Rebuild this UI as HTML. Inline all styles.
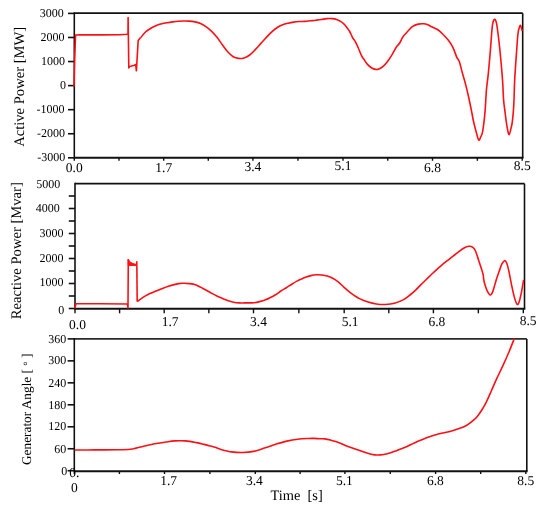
<!DOCTYPE html>
<html><head><meta charset="utf-8"><title>Generator response</title>
<style>
html,body{margin:0;padding:0;background:#fff;width:550px;height:507px;overflow:hidden;}
svg{display:block;}
text{font-family:"Liberation Serif","Times New Roman",serif;fill:#000;text-rendering:geometricPrecision;}
</style></head><body>
<svg width="550" height="507" viewBox="0 0 550 507">
<rect width="550" height="507" fill="#fff"/>
<line x1="74.30" y1="13.20" x2="522.70" y2="13.20" stroke="#111" stroke-width="1.8"/>
<line x1="522.70" y1="13.20" x2="522.70" y2="157.80" stroke="#111" stroke-width="1.6"/>
<line x1="74.30" y1="157.80" x2="523.50" y2="157.80" stroke="#111" stroke-width="1.9"/>
<line x1="74.30" y1="12.30" x2="74.30" y2="158.75" stroke="#111" stroke-width="1.6"/>
<line x1="68.00" y1="13.40" x2="74.30" y2="13.40" stroke="#111" stroke-width="1.6"/>
<text x="63.80" y="16.80" font-size="12.0" text-anchor="end">3000</text>
<line x1="68.00" y1="37.47" x2="74.30" y2="37.47" stroke="#111" stroke-width="1.6"/>
<text x="64.60" y="40.87" font-size="12.0" text-anchor="end">2000</text>
<line x1="68.00" y1="61.54" x2="74.30" y2="61.54" stroke="#111" stroke-width="1.6"/>
<text x="64.90" y="64.94" font-size="12.0" text-anchor="end">1000</text>
<line x1="68.00" y1="85.61" x2="74.30" y2="85.61" stroke="#111" stroke-width="1.6"/>
<text x="66.10" y="89.01" font-size="12.0" text-anchor="end">0</text>
<line x1="68.00" y1="109.68" x2="74.30" y2="109.68" stroke="#111" stroke-width="1.6"/>
<text x="64.60" y="113.08" font-size="12.0" text-anchor="end">-1000</text>
<line x1="68.00" y1="133.75" x2="74.30" y2="133.75" stroke="#111" stroke-width="1.6"/>
<text x="64.90" y="137.15" font-size="12.0" text-anchor="end">-2000</text>
<line x1="68.00" y1="157.82" x2="74.30" y2="157.82" stroke="#111" stroke-width="1.6"/>
<text x="65.30" y="161.22" font-size="12.0" text-anchor="end">-3000</text>
<line x1="74.30" y1="157.80" x2="74.30" y2="160.80" stroke="#111" stroke-width="1.4"/>
<line x1="163.70" y1="157.80" x2="163.70" y2="160.80" stroke="#111" stroke-width="1.4"/>
<line x1="252.90" y1="157.80" x2="252.90" y2="160.80" stroke="#111" stroke-width="1.4"/>
<line x1="343.00" y1="157.80" x2="343.00" y2="160.80" stroke="#111" stroke-width="1.4"/>
<line x1="432.50" y1="157.80" x2="432.50" y2="160.80" stroke="#111" stroke-width="1.4"/>
<line x1="522.20" y1="157.80" x2="522.20" y2="160.80" stroke="#111" stroke-width="1.4"/>
<line x1="119.00" y1="157.80" x2="119.00" y2="160.80" stroke="#111" stroke-width="1.4"/>
<line x1="208.30" y1="157.80" x2="208.30" y2="160.80" stroke="#111" stroke-width="1.4"/>
<line x1="297.95" y1="157.80" x2="297.95" y2="160.80" stroke="#111" stroke-width="1.4"/>
<line x1="387.75" y1="157.80" x2="387.75" y2="160.80" stroke="#111" stroke-width="1.4"/>
<line x1="477.35" y1="157.80" x2="477.35" y2="160.80" stroke="#111" stroke-width="1.4"/>
<text x="74.30" y="171.50" font-size="13.5" text-anchor="middle">0.0</text>
<text x="163.70" y="171.90" font-size="13.5" text-anchor="middle">1.7</text>
<text x="252.90" y="170.50" font-size="13.5" text-anchor="middle">3.4</text>
<text x="343.00" y="169.80" font-size="13.5" text-anchor="middle">5.1</text>
<text x="432.50" y="172.40" font-size="13.5" text-anchor="middle">6.8</text>
<text x="522.20" y="170.10" font-size="13.5" text-anchor="middle">8.5</text>
<line x1="75.00" y1="183.60" x2="524.50" y2="183.60" stroke="#111" stroke-width="1.8"/>
<line x1="524.50" y1="183.60" x2="524.50" y2="308.70" stroke="#111" stroke-width="1.6"/>
<line x1="75.00" y1="308.70" x2="525.30" y2="308.70" stroke="#111" stroke-width="1.9"/>
<line x1="75.00" y1="182.70" x2="75.00" y2="309.65" stroke="#111" stroke-width="1.6"/>
<line x1="68.80" y1="296.00" x2="75.00" y2="296.00" stroke="#111" stroke-width="1.6"/>
<line x1="68.80" y1="283.50" x2="75.00" y2="283.50" stroke="#111" stroke-width="1.6"/>
<line x1="68.80" y1="271.00" x2="75.00" y2="271.00" stroke="#111" stroke-width="1.6"/>
<line x1="68.80" y1="258.50" x2="75.00" y2="258.50" stroke="#111" stroke-width="1.6"/>
<line x1="68.80" y1="246.00" x2="75.00" y2="246.00" stroke="#111" stroke-width="1.6"/>
<line x1="68.80" y1="233.50" x2="75.00" y2="233.50" stroke="#111" stroke-width="1.6"/>
<line x1="68.80" y1="221.00" x2="75.00" y2="221.00" stroke="#111" stroke-width="1.6"/>
<line x1="68.80" y1="208.50" x2="75.00" y2="208.50" stroke="#111" stroke-width="1.6"/>
<line x1="68.80" y1="196.00" x2="75.00" y2="196.00" stroke="#111" stroke-width="1.6"/>
<line x1="68.80" y1="308.50" x2="75.00" y2="308.50" stroke="#111" stroke-width="1.6"/>
<text x="60.30" y="188.40" font-size="12.0" text-anchor="end">5000</text>
<text x="59.80" y="211.60" font-size="12.0" text-anchor="end">4000</text>
<text x="63.60" y="236.50" font-size="12.0" text-anchor="end">3000</text>
<text x="63.60" y="262.30" font-size="12.0" text-anchor="end">2000</text>
<text x="63.60" y="286.40" font-size="12.0" text-anchor="end">1000</text>
<text x="64.20" y="314.00" font-size="12.0" text-anchor="end">0</text>
<line x1="75.00" y1="308.70" x2="75.00" y2="313.30" stroke="#111" stroke-width="1.4"/>
<line x1="164.20" y1="308.70" x2="164.20" y2="313.30" stroke="#111" stroke-width="1.4"/>
<line x1="253.50" y1="308.70" x2="253.50" y2="313.30" stroke="#111" stroke-width="1.4"/>
<line x1="344.20" y1="308.70" x2="344.20" y2="313.30" stroke="#111" stroke-width="1.4"/>
<line x1="433.40" y1="308.70" x2="433.40" y2="313.30" stroke="#111" stroke-width="1.4"/>
<line x1="523.30" y1="308.70" x2="523.30" y2="313.30" stroke="#111" stroke-width="1.4"/>
<line x1="119.60" y1="308.70" x2="119.60" y2="313.30" stroke="#111" stroke-width="1.4"/>
<line x1="208.85" y1="308.70" x2="208.85" y2="313.30" stroke="#111" stroke-width="1.4"/>
<line x1="298.85" y1="308.70" x2="298.85" y2="313.30" stroke="#111" stroke-width="1.4"/>
<line x1="388.80" y1="308.70" x2="388.80" y2="313.30" stroke="#111" stroke-width="1.4"/>
<line x1="478.35" y1="308.70" x2="478.35" y2="313.30" stroke="#111" stroke-width="1.4"/>
<text x="69.00" y="329.40" font-size="13.5" text-anchor="start">0.0</text>
<text x="161.70" y="325.50" font-size="13.5" text-anchor="start">1.7</text>
<text x="250.00" y="325.50" font-size="13.5" text-anchor="start">3.4</text>
<text x="341.70" y="325.50" font-size="13.5" text-anchor="start">5.1</text>
<text x="428.40" y="325.50" font-size="13.5" text-anchor="start">6.8</text>
<text x="519.70" y="325.20" font-size="13.5" text-anchor="start">8.5</text>
<line x1="74.30" y1="338.90" x2="526.80" y2="338.90" stroke="#2a2a2a" stroke-width="1.8"/>
<line x1="526.80" y1="338.90" x2="526.80" y2="471.20" stroke="#111" stroke-width="1.6"/>
<line x1="74.30" y1="471.20" x2="527.60" y2="471.20" stroke="#111" stroke-width="1.9"/>
<line x1="74.30" y1="338.00" x2="74.30" y2="472.15" stroke="#111" stroke-width="1.6"/>
<line x1="67.60" y1="338.90" x2="74.30" y2="338.90" stroke="#111" stroke-width="1.6"/>
<line x1="67.60" y1="360.87" x2="74.30" y2="360.87" stroke="#111" stroke-width="1.6"/>
<line x1="67.60" y1="382.84" x2="74.30" y2="382.84" stroke="#111" stroke-width="1.6"/>
<line x1="67.60" y1="404.81" x2="74.30" y2="404.81" stroke="#111" stroke-width="1.6"/>
<line x1="67.60" y1="426.78" x2="74.30" y2="426.78" stroke="#111" stroke-width="1.6"/>
<line x1="67.60" y1="448.75" x2="74.30" y2="448.75" stroke="#111" stroke-width="1.6"/>
<line x1="67.60" y1="470.72" x2="74.30" y2="470.72" stroke="#111" stroke-width="1.6"/>
<text x="66.30" y="342.60" font-size="12.0" text-anchor="end">360</text>
<text x="66.30" y="364.00" font-size="12.0" text-anchor="end">300</text>
<text x="66.30" y="386.50" font-size="12.0" text-anchor="end">240</text>
<text x="66.30" y="408.50" font-size="12.0" text-anchor="end">180</text>
<text x="66.30" y="430.40" font-size="12.0" text-anchor="end">120</text>
<text x="66.30" y="452.60" font-size="12.0" text-anchor="end">60</text>
<text x="67.20" y="474.60" font-size="12.0" text-anchor="end">0</text>
<line x1="74.30" y1="471.20" x2="74.30" y2="474.00" stroke="#111" stroke-width="1.4"/>
<line x1="164.50" y1="471.20" x2="164.50" y2="474.00" stroke="#111" stroke-width="1.4"/>
<line x1="255.30" y1="471.20" x2="255.30" y2="474.00" stroke="#111" stroke-width="1.4"/>
<line x1="344.90" y1="471.20" x2="344.90" y2="474.00" stroke="#111" stroke-width="1.4"/>
<line x1="435.60" y1="471.20" x2="435.60" y2="474.00" stroke="#111" stroke-width="1.4"/>
<line x1="525.80" y1="471.20" x2="525.80" y2="474.00" stroke="#111" stroke-width="1.4"/>
<line x1="119.40" y1="471.20" x2="119.40" y2="474.00" stroke="#111" stroke-width="1.4"/>
<line x1="209.90" y1="471.20" x2="209.90" y2="474.00" stroke="#111" stroke-width="1.4"/>
<line x1="300.10" y1="471.20" x2="300.10" y2="474.00" stroke="#111" stroke-width="1.4"/>
<line x1="390.25" y1="471.20" x2="390.25" y2="474.00" stroke="#111" stroke-width="1.4"/>
<line x1="480.70" y1="471.20" x2="480.70" y2="474.00" stroke="#111" stroke-width="1.4"/>
<text x="69.30" y="476.50" font-size="13.5" text-anchor="start">0.</text>
<text x="71.00" y="492.00" font-size="13.5" text-anchor="start">0</text>
<text x="160.20" y="484.50" font-size="13.5" text-anchor="start">1.7</text>
<text x="245.90" y="484.50" font-size="13.5" text-anchor="start">3.4</text>
<text x="335.90" y="484.50" font-size="13.5" text-anchor="start">5.1</text>
<text x="426.90" y="484.50" font-size="13.5" text-anchor="start">6.8</text>
<text x="517.30" y="484.60" font-size="13.5" text-anchor="start">8.5</text>
<text x="0" y="0" font-size="14.6" transform="translate(23.6,146.8) rotate(-90)">Active Power [MW]</text>
<text x="0" y="0" font-size="14.6" transform="translate(20.8,319.2) rotate(-90)">Reactive Power [Mvar]</text>
<text x="0" y="0" font-size="13.3" transform="translate(31.3,465.0) rotate(-90)" style="white-space:pre">Generator Angle [ <tspan font-size="11">°</tspan> ]</text>
<text x="270.5" y="499.6" font-size="14.4" style="white-space:pre">Time  [s]</text>
<path d="M74.00,86.50 L74.60,60.00 L75.60,35.00 L80.00,34.90 L100.00,34.90 L120.00,34.80 L126.70,34.30 L128.00,34.00 L128.10,17.60 L128.80,68.00 L129.50,66.60 L131.60,66.00 L134.30,65.20 L135.70,64.60 L136.40,70.80 L138.20,40.40 L140.60,37.60" fill="none" stroke="#ff0f14" stroke-width="1.6" stroke-linejoin="round"/>
<path d="M140.60,37.80 C141.42,36.83 143.78,33.60 145.50,32.00 C147.22,30.40 149.08,29.28 150.90,28.20 C152.72,27.12 154.58,26.23 156.40,25.50 C158.22,24.77 159.98,24.27 161.80,23.80 C163.62,23.33 165.48,23.02 167.30,22.70 C169.12,22.38 170.88,22.13 172.70,21.90 C174.52,21.67 176.38,21.45 178.20,21.30 C180.02,21.15 181.78,21.03 183.60,21.00 C185.42,20.97 187.20,20.95 189.10,21.10 C191.00,21.25 193.10,21.50 195.00,21.90 C196.90,22.30 198.68,22.70 200.50,23.50 C202.32,24.30 204.08,25.43 205.90,26.70 C207.72,27.97 209.58,29.37 211.40,31.10 C213.22,32.83 214.98,34.83 216.80,37.10 C218.62,39.37 220.48,42.25 222.30,44.70 C224.12,47.15 225.88,49.78 227.70,51.80 C229.52,53.82 231.38,55.70 233.20,56.80 C235.02,57.90 236.78,58.22 238.60,58.40 C240.42,58.58 242.25,58.47 244.10,57.90 C245.95,57.33 247.80,56.42 249.70,55.00 C251.60,53.58 253.63,51.33 255.50,49.40 C257.37,47.47 259.08,45.40 260.90,43.40 C262.72,41.40 264.58,39.32 266.40,37.40 C268.22,35.48 269.98,33.55 271.80,31.90 C273.62,30.25 275.48,28.68 277.30,27.50 C279.12,26.32 280.88,25.52 282.70,24.80 C284.52,24.08 286.38,23.65 288.20,23.20 C290.02,22.75 291.78,22.38 293.60,22.10 C295.42,21.82 297.23,21.62 299.10,21.50 C300.97,21.38 302.93,21.52 304.80,21.40 C306.67,21.28 308.45,21.00 310.30,20.80 C312.15,20.60 314.05,20.42 315.90,20.20 C317.75,19.98 319.58,19.77 321.40,19.50 C323.22,19.23 324.98,18.75 326.80,18.60 C328.62,18.45 330.67,18.45 332.30,18.60 C333.93,18.75 335.15,19.00 336.60,19.50 C338.05,20.00 339.72,20.78 341.00,21.60 C342.28,22.42 343.30,23.38 344.30,24.40 C345.30,25.42 346.10,26.52 347.00,27.70 C347.90,28.88 348.78,29.87 349.70,31.50 C350.62,33.13 351.57,35.80 352.50,37.50 C353.43,39.20 354.35,39.98 355.30,41.70 C356.25,43.42 357.17,45.47 358.20,47.80 C359.23,50.13 360.58,53.83 361.50,55.70 C362.42,57.57 362.78,57.63 363.70,59.00 C364.62,60.37 365.72,62.45 367.00,63.90 C368.28,65.35 369.95,66.78 371.40,67.70 C372.85,68.62 374.43,69.18 375.70,69.40 C376.97,69.62 377.72,69.55 379.00,69.00 C380.28,68.45 381.95,67.40 383.40,66.10 C384.85,64.80 386.25,63.12 387.70,61.20 C389.15,59.28 390.65,56.97 392.10,54.60 C393.55,52.23 395.13,48.93 396.40,47.00 C397.67,45.07 398.63,44.67 399.70,43.00 C400.77,41.33 401.53,38.87 402.80,37.00 C404.07,35.13 405.65,33.57 407.30,31.80 C408.95,30.03 410.88,27.68 412.70,26.40 C414.52,25.12 416.38,24.53 418.20,24.10 C420.02,23.67 422.08,23.75 423.60,23.80 C425.12,23.85 425.93,23.90 427.30,24.40 C428.67,24.90 429.98,25.87 431.80,26.80 C433.62,27.73 436.23,28.63 438.20,30.00 C440.17,31.37 441.87,33.23 443.60,35.00 C445.33,36.77 447.02,38.47 448.60,40.60 C450.18,42.73 451.77,45.10 453.10,47.80 C454.43,50.50 455.57,54.50 456.60,56.80 C457.63,59.10 458.38,59.07 459.30,61.60 C460.22,64.13 461.05,68.20 462.10,72.00 C463.15,75.80 464.53,80.32 465.60,84.40 C466.67,88.48 467.52,92.08 468.50,96.50 C469.48,100.92 470.65,106.68 471.50,110.90 C472.35,115.12 472.78,118.17 473.60,121.80 C474.42,125.43 475.53,129.63 476.40,132.70 C477.27,135.77 478.05,139.57 478.80,140.20 C479.55,140.83 480.30,137.75 480.90,136.50 C481.50,135.25 481.88,135.15 482.40,132.70 C482.92,130.25 483.55,125.43 484.00,121.80 C484.45,118.17 484.80,114.53 485.10,110.90 C485.40,107.27 485.57,103.65 485.80,100.00 C486.03,96.35 486.08,93.38 486.50,89.00 C486.92,84.62 487.65,80.20 488.30,73.70 C488.95,67.20 489.78,57.40 490.40,50.00 C491.02,42.60 491.55,34.02 492.00,29.30 C492.45,24.58 492.68,23.35 493.10,21.70 C493.52,20.05 494.03,19.52 494.50,19.40 C494.97,19.28 495.43,19.57 495.90,21.00 C496.37,22.43 496.63,23.17 497.30,28.00 C497.97,32.83 499.03,41.40 499.90,50.00 C500.77,58.60 501.88,71.27 502.50,79.60 C503.12,87.93 503.20,94.78 503.60,100.00 C504.00,105.22 504.45,107.27 504.90,110.90 C505.35,114.53 505.78,118.35 506.30,121.80 C506.82,125.25 507.50,129.50 508.00,131.60 C508.50,133.70 508.75,135.12 509.30,134.40 C509.85,133.68 510.80,129.40 511.30,127.30 C511.80,125.20 511.95,124.53 512.30,121.80 C512.65,119.07 513.12,114.53 513.40,110.90 C513.68,107.27 513.78,105.22 514.00,100.00 C514.22,94.78 514.25,87.93 514.70,79.60 C515.15,71.27 516.15,57.68 516.70,50.00 C517.25,42.32 517.50,37.45 518.00,33.50 C518.50,29.55 519.23,27.57 519.70,26.30 C520.17,25.03 520.38,25.12 520.80,25.90 C521.22,26.68 521.97,30.15 522.20,31.00" fill="none" stroke="#ff0f14" stroke-width="1.6" stroke-linejoin="round"/>
<path d="M74.80,308.50 L76.00,303.80 L100.00,303.80 L127.40,304.00 L128.00,308.00 L128.30,259.20" fill="none" stroke="#ff0f14" stroke-width="1.6" stroke-linejoin="round"/>
<path d="M128.20,259.10 L129.50,261.30 L131.00,262.60 L133.00,263.60 L136.20,264.40 L136.20,265.40 L128.20,265.40Z" fill="#ff0f14" stroke="#ff0f14" stroke-width="1"/>
<path d="M136.80,261.20 L137.20,301.50" fill="none" stroke="#ff0f14" stroke-width="1.6" stroke-linejoin="round"/>
<path d="M137.20,301.50 C138.65,300.52 142.63,297.40 145.90,295.60 C149.17,293.80 153.17,292.23 156.80,290.70 C160.43,289.17 164.07,287.58 167.70,286.40 C171.33,285.22 175.87,284.12 178.60,283.60 C181.33,283.08 182.28,283.30 184.10,283.30 C185.92,283.30 187.60,283.37 189.50,283.60 C191.40,283.83 193.60,284.07 195.50,284.70 C197.40,285.33 199.08,286.48 200.90,287.40 C202.72,288.32 204.58,289.20 206.40,290.20 C208.22,291.20 209.98,292.40 211.80,293.40 C213.62,294.40 215.48,295.33 217.30,296.20 C219.12,297.07 220.88,297.83 222.70,298.60 C224.52,299.37 226.38,300.20 228.20,300.80 C230.02,301.40 231.78,301.85 233.60,302.20 C235.42,302.55 237.28,302.78 239.10,302.90 C240.92,303.02 242.00,302.93 244.50,302.90 C247.00,302.87 251.43,302.95 254.10,302.70 C256.77,302.45 258.60,301.88 260.50,301.40 C262.40,300.92 263.92,300.40 265.50,299.80 C267.08,299.20 268.33,298.63 270.00,297.80 C271.67,296.97 273.68,295.93 275.50,294.80 C277.32,293.67 279.08,292.18 280.90,291.00 C282.72,289.82 284.58,288.83 286.40,287.70 C288.22,286.57 289.98,285.33 291.80,284.20 C293.62,283.07 295.93,281.67 297.30,280.90 C298.67,280.13 298.63,280.22 300.00,279.60 C301.37,278.98 303.68,277.87 305.50,277.20 C307.32,276.53 309.13,276.00 310.90,275.60 C312.67,275.20 314.25,274.90 316.10,274.80 C317.95,274.70 320.13,274.78 322.00,275.00 C323.87,275.22 325.52,275.55 327.30,276.10 C329.08,276.65 330.88,277.33 332.70,278.30 C334.52,279.27 336.38,280.48 338.20,281.90 C340.02,283.32 341.78,285.17 343.60,286.80 C345.42,288.43 347.28,290.23 349.10,291.70 C350.92,293.17 352.68,294.40 354.50,295.60 C356.32,296.80 357.87,297.87 360.00,298.90 C362.13,299.93 364.57,300.95 367.30,301.80 C370.03,302.65 373.37,303.55 376.40,304.00 C379.43,304.45 382.48,304.62 385.50,304.50 C388.52,304.38 391.48,304.12 394.50,303.30 C397.52,302.48 401.02,300.98 403.60,299.60 C406.18,298.22 407.95,296.63 410.00,295.00 C412.05,293.37 414.23,291.37 415.90,289.80 C417.57,288.23 418.40,287.20 420.00,285.60 C421.60,284.00 423.68,281.97 425.50,280.20 C427.32,278.43 429.08,276.73 430.90,275.00 C432.72,273.27 434.58,271.45 436.40,269.80 C438.22,268.15 439.98,266.62 441.80,265.10 C443.62,263.58 445.48,262.15 447.30,260.70 C449.12,259.25 450.88,257.82 452.70,256.40 C454.52,254.98 456.38,253.57 458.20,252.20 C460.02,250.83 461.78,249.18 463.60,248.20 C465.42,247.22 467.57,246.43 469.10,246.30 C470.63,246.17 471.73,246.62 472.80,247.40 C473.87,248.18 474.58,249.02 475.50,251.00 C476.42,252.98 477.38,256.53 478.30,259.30 C479.22,262.07 480.20,265.07 481.00,267.60 C481.80,270.13 482.63,272.43 483.10,274.50 C483.57,276.57 483.45,278.15 483.80,280.00 C484.15,281.85 484.62,283.75 485.20,285.60 C485.78,287.45 486.50,289.53 487.30,291.10 C488.10,292.67 489.20,294.65 490.00,295.00 C490.80,295.35 491.40,294.53 492.10,293.20 C492.80,291.87 493.52,289.20 494.20,287.00 C494.88,284.80 495.40,282.53 496.20,280.00 C497.00,277.47 498.07,274.43 499.00,271.80 C499.93,269.17 500.88,266.05 501.80,264.20 C502.72,262.35 503.70,260.93 504.50,260.70 C505.30,260.47 505.90,261.18 506.60,262.80 C507.30,264.42 507.90,266.83 508.70,270.40 C509.50,273.97 510.48,279.83 511.40,284.20 C512.32,288.57 513.27,293.27 514.20,296.60 C515.13,299.93 516.20,303.27 517.00,304.20 C517.80,305.13 518.32,303.92 519.00,302.20 C519.68,300.48 520.33,297.60 521.10,293.90 C521.87,290.20 523.18,282.32 523.60,280.00" fill="none" stroke="#ff0f14" stroke-width="1.6" stroke-linejoin="round"/>
<path d="M74.70,450.00 C77.85,449.98 86.50,449.95 93.60,449.90 C100.70,449.85 111.15,449.82 117.30,449.70 C123.45,449.58 127.38,449.47 130.50,449.20 C133.62,448.93 133.82,448.60 136.00,448.10 C138.18,447.60 140.87,446.83 143.60,446.20 C146.33,445.57 149.92,444.80 152.40,444.30 C154.88,443.80 156.25,443.58 158.50,443.20 C160.75,442.82 163.22,442.38 165.90,442.00 C168.58,441.62 171.33,441.08 174.60,440.90 C177.87,440.72 181.85,440.62 185.50,440.90 C189.15,441.18 193.40,442.02 196.50,442.60 C199.60,443.18 201.85,443.85 204.10,444.40 C206.35,444.95 208.18,445.42 210.00,445.90 C211.82,446.38 213.18,446.72 215.00,447.30 C216.82,447.88 218.10,448.63 220.90,449.40 C223.70,450.17 228.17,451.38 231.80,451.90 C235.43,452.42 239.07,452.58 242.70,452.50 C246.33,452.42 249.97,452.13 253.60,451.40 C257.23,450.67 261.77,448.95 264.50,448.10 C267.23,447.25 268.10,446.95 270.00,446.30 C271.90,445.65 273.10,445.07 275.90,444.20 C278.70,443.33 283.17,441.93 286.80,441.10 C290.43,440.27 294.07,439.63 297.70,439.20 C301.33,438.77 305.87,438.63 308.60,438.50 C311.33,438.37 312.20,438.35 314.10,438.40 C316.00,438.45 318.18,438.72 320.00,438.80 C321.82,438.88 323.18,438.67 325.00,438.90 C326.82,439.13 328.65,439.62 330.90,440.20 C333.15,440.78 335.77,441.40 338.50,442.40 C341.23,443.40 344.02,444.93 347.30,446.20 C350.58,447.47 354.93,448.85 358.20,450.00 C361.47,451.15 364.18,452.28 366.90,453.10 C369.62,453.92 372.32,454.60 374.50,454.90 C376.68,455.20 378.47,454.97 380.00,454.90 C381.53,454.83 381.80,454.90 383.70,454.50 C385.60,454.10 389.28,453.13 391.40,452.50 C393.52,451.87 394.85,451.30 396.40,450.70 C397.95,450.10 399.25,449.48 400.70,448.90 C402.15,448.32 403.63,447.82 405.10,447.20 C406.57,446.58 408.05,445.87 409.50,445.20 C410.95,444.53 411.75,444.10 413.80,443.20 C415.85,442.30 419.18,440.87 421.80,439.80 C424.42,438.73 426.77,437.75 429.50,436.80 C432.23,435.85 434.78,435.00 438.20,434.10 C441.62,433.20 446.52,432.32 450.00,431.40 C453.48,430.48 456.37,429.58 459.10,428.60 C461.83,427.62 464.13,426.78 466.40,425.50 C468.67,424.22 470.88,422.42 472.70,420.90 C474.52,419.38 475.78,418.22 477.30,416.40 C478.82,414.58 480.32,412.35 481.80,410.00 C483.28,407.65 484.58,405.55 486.20,402.30 C487.82,399.05 489.77,394.40 491.50,390.50 C493.23,386.60 494.70,383.03 496.60,378.90 C498.50,374.77 500.78,370.32 502.90,365.70 C505.02,361.08 507.40,355.73 509.30,351.20 C511.20,346.67 513.47,340.62 514.30,338.50" fill="none" stroke="#ff0f14" stroke-width="1.6" stroke-linejoin="round"/>
</svg>
</body></html>
